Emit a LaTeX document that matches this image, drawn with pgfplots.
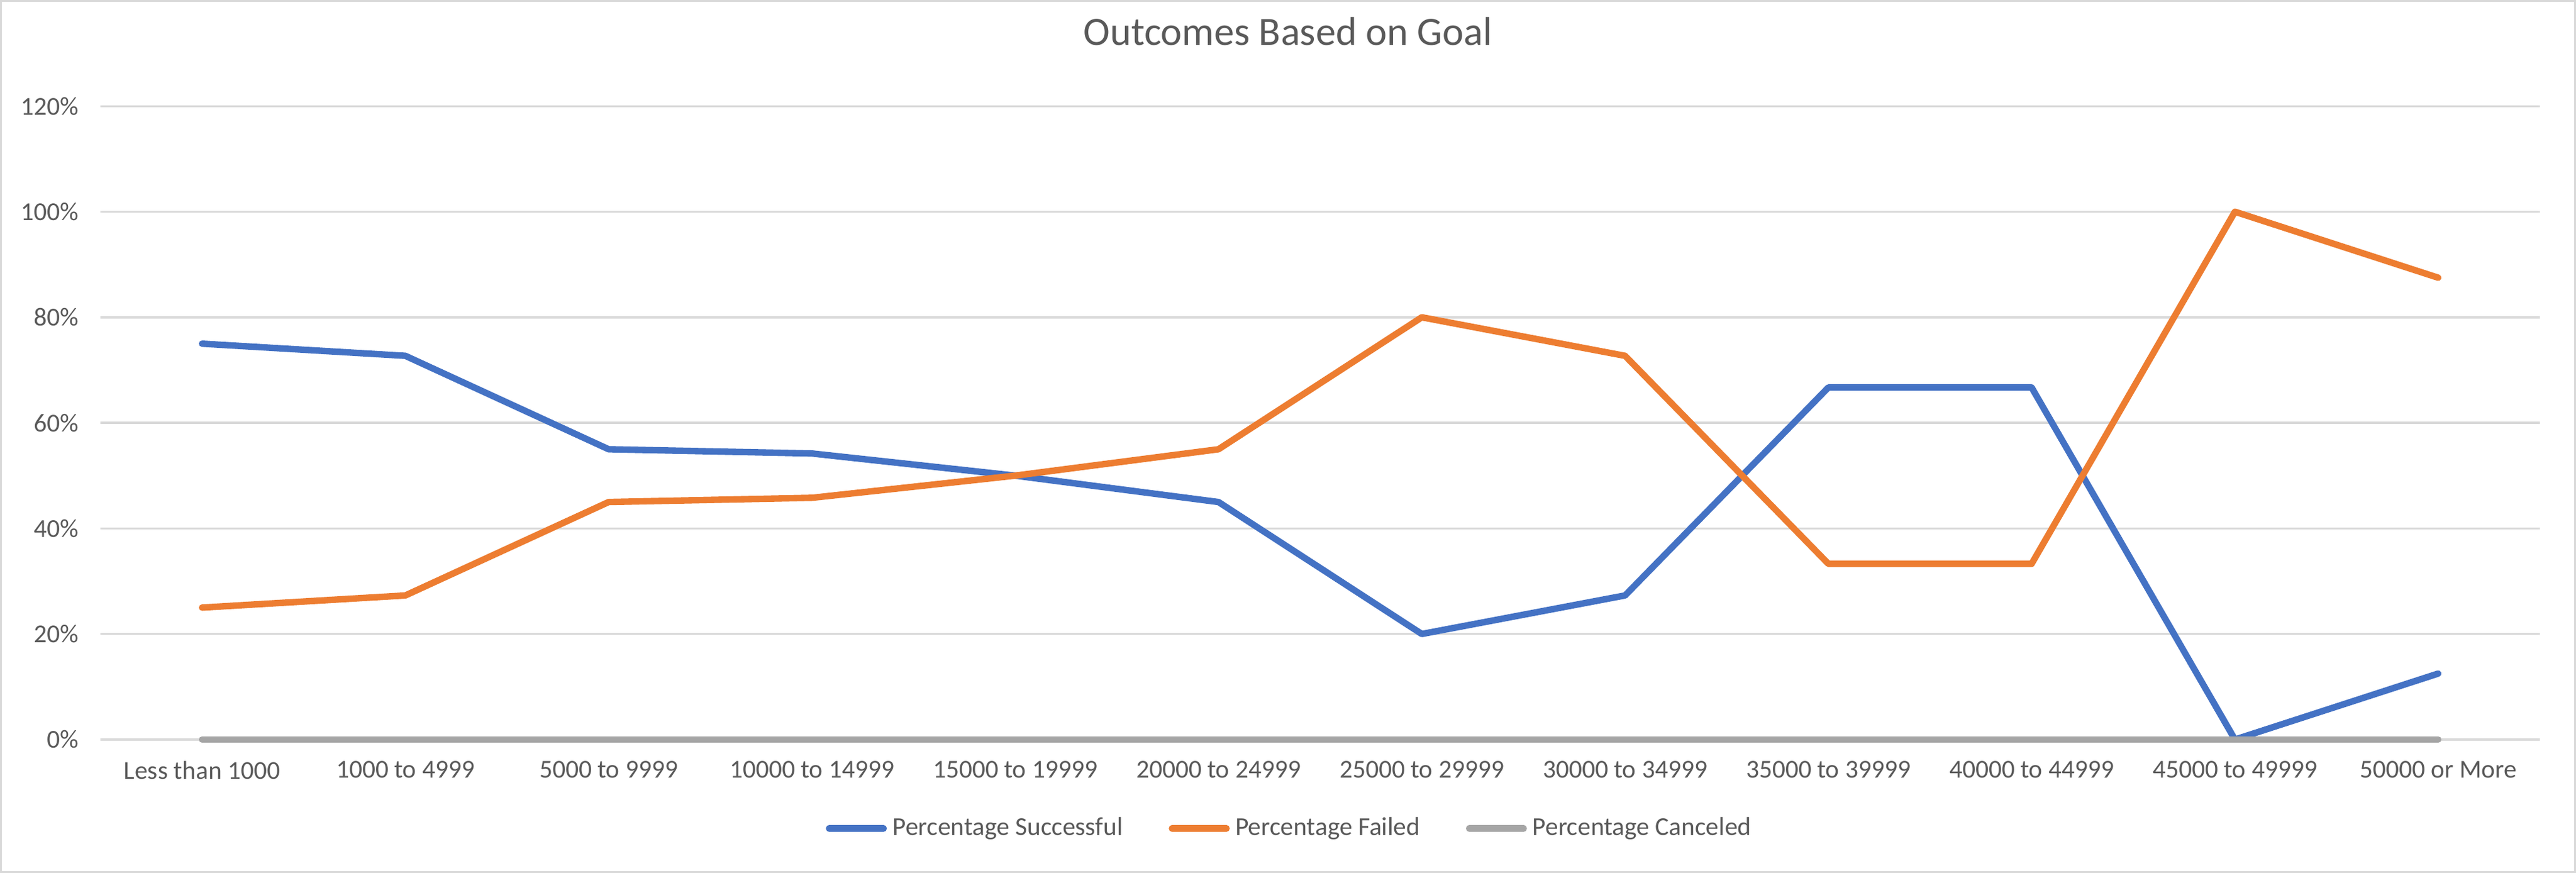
\documentclass[border=0pt]{standalone}
\usepackage{pgfplots}
\pgfplotsset{compat=1.18}
\usepackage{fontspec}
\setmainfont{Carlito}
\definecolor{xlblue}{HTML}{4472C4}
\definecolor{xlorange}{HTML}{ED7D31}
\definecolor{xlgray}{HTML}{A5A5A5}
\definecolor{xltext}{HTML}{595959}
\definecolor{xlgrid}{HTML}{D9D9D9}

\pgfplotstableread{
x succ fail canc
0 75.0 25.0 0
1 72.7 27.3 0
2 55.0 45.0 0
3 54.2 45.8 0
4 50.0 50.0 0
5 45.0 55.0 0
6 20.0 80.0 0
7 27.3 72.7 0
8 66.7 33.3 0
9 66.7 33.3 0
10 0.0 100.0 0
11 12.5 87.5 0
}\outcomes

\begin{document}
\begin{tikzpicture}
\begin{axis}[
    scale only axis,
    width=850pt, height=220.7pt,
    xmin=-0.5, xmax=11.5,
    ymin=0, ymax=120,
    xtick=data,
    xticklabels={Less than 1000, 1000 to 4999, 5000 to 9999, 10000 to 14999,
        15000 to 19999, 20000 to 24999, 25000 to 29999, 30000 to 34999,
        35000 to 39999, 40000 to 44999, 45000 to 49999, 50000 or More},
    ytick={0,20,...,120},
    yticklabels={0\%,20\%,40\%,60\%,80\%,100\%,120\%},
    axis line style={draw=none},
    major tick length=0pt,
    ymajorgrids,
    grid style={xlgrid, line width=0.75pt},
    ticklabel style={font=\fontsize{9}{11}\selectfont, text=xltext},
    yticklabel style={xshift=-4pt},
    xticklabel style={yshift=-4pt},
    title={Outcomes Based on Goal},
    title style={font=\fontsize{14}{17}\selectfont, text=xltext,
        at={(0.5,1)}, anchor=center, yshift=20pt, xshift=-11.2pt},
    legend style={at={(0.5,0)}, anchor=center, yshift=-31pt, xshift=-10pt, draw=none,
        font=\fontsize{9}{11}\selectfont, text=xltext,
        legend columns=3,
        /tikz/every even column/.append style={column sep=14pt}},
    legend image code/.code={\draw[#1, line cap=round] (0pt,0pt) -- (19pt,0pt);},
    every axis plot/.append style={line width=2.25pt, line join=round, line cap=round, mark=none},
    clip=false,
]
\addplot[xlblue] table[x=x, y=succ] {\outcomes};
\addlegendentry{Percentage Successful}
\addplot[xlorange] table[x=x, y=fail] {\outcomes};
\addlegendentry{Percentage Failed}
\addplot[xlgray] table[x=x, y=canc] {\outcomes};
\addlegendentry{Percentage Canceled}
\end{axis}
\draw[xlgrid, line width=0.75pt] (-35pt+0.375pt,-46.5pt+0.375pt) rectangle (862.6pt-0.375pt,257.7pt-0.375pt);
\useasboundingbox (-35pt,-46.5pt) rectangle (862.6pt,257.7pt);
\end{tikzpicture}
\end{document}
